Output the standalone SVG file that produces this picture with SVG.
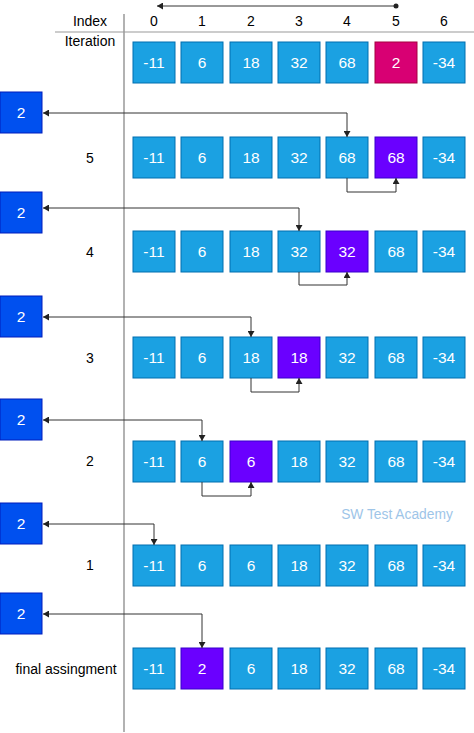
<svg xmlns="http://www.w3.org/2000/svg" width="474" height="733" viewBox="0 0 474 733">
<defs>
<marker id="ah" markerWidth="7" markerHeight="7" refX="6" refY="3.5" orient="auto-start-reverse" markerUnits="userSpaceOnUse">
<path d="M0,0 L6,3.5 L0,7 Z" fill="#222"/>
</marker>
<style>
.b{fill:#1ba1e2;stroke:#006eaf;stroke-width:1}
.p{fill:#6a00ff;stroke:#3700cc;stroke-width:1}
.m{fill:#d80073;stroke:#a50040;stroke-width:1}
.l{fill:#0050ef;stroke:#001dbc;stroke-width:1}
.t{font-family:"Liberation Sans",Arial,sans-serif;font-size:15.5px;fill:#fff;text-anchor:middle;dominant-baseline:central}
.k{font-family:"Liberation Sans",Arial,sans-serif;font-size:14px;fill:#000;text-anchor:middle;dominant-baseline:central}
.c{fill:none;stroke:#333;stroke-width:1}
</style>
</defs>
<rect width="474" height="733" fill="#fff"/>
<g id="axes">
<line x1="124" y1="14" x2="124" y2="732" stroke="#999" stroke-width="1.5"/>
<line x1="55" y1="32" x2="474" y2="32" stroke="#999" stroke-width="1"/>
<text class="k" x="90" y="21">Index</text>
<text class="k" x="90" y="41">Iteration</text>
<text class="k" x="154" y="21">0</text>
<text class="k" x="202" y="21">1</text>
<text class="k" x="251" y="21">2</text>
<text class="k" x="299" y="21">3</text>
<text class="k" x="347" y="21">4</text>
<text class="k" x="396" y="21">5</text>
<text class="k" x="444" y="21">6</text>
<text class="k" x="90" y="158">5</text>
<text class="k" x="90" y="252">4</text>
<text class="k" x="90" y="358">3</text>
<text class="k" x="90" y="461">2</text>
<text class="k" x="90" y="565">1</text>
<text class="k" x="66" y="669">final assingment</text>
<text x="397" y="514" font-family="Liberation Sans,Arial,sans-serif" font-size="13.8" fill="#9ec5e8" text-anchor="middle" dominant-baseline="central">SW Test Academy</text>
</g>
<g id="row0">
<rect class="b" x="133" y="42" width="42" height="41"/><text class="t" x="154" y="62.5">-11</text>
<rect class="b" x="181" y="42" width="42" height="41"/><text class="t" x="202" y="62.5">6</text>
<rect class="b" x="230" y="42" width="42" height="41"/><text class="t" x="251" y="62.5">18</text>
<rect class="b" x="278" y="42" width="42" height="41"/><text class="t" x="299" y="62.5">32</text>
<rect class="b" x="326" y="42" width="42" height="41"/><text class="t" x="347" y="62.5">68</text>
<rect class="m" x="375" y="42" width="42" height="41"/><text class="t" x="396" y="62.5">2</text>
<rect class="b" x="423" y="42" width="42" height="41"/><text class="t" x="444" y="62.5">-34</text>
</g>
<g id="row5">
<rect class="l" x="0" y="92" width="42" height="41"/><text class="t" x="21" y="112.5">2</text>
<rect class="b" x="133" y="137" width="42" height="41"/><text class="t" x="154" y="157.5">-11</text>
<rect class="b" x="181" y="137" width="42" height="41"/><text class="t" x="202" y="157.5">6</text>
<rect class="b" x="230" y="137" width="42" height="41"/><text class="t" x="251" y="157.5">18</text>
<rect class="b" x="278" y="137" width="42" height="41"/><text class="t" x="299" y="157.5">32</text>
<rect class="b" x="326" y="137" width="42" height="41"/><text class="t" x="347" y="157.5">68</text>
<rect class="p" x="375" y="137" width="42" height="41"/><text class="t" x="396" y="157.5">68</text>
<rect class="b" x="423" y="137" width="42" height="41"/><text class="t" x="444" y="157.5">-34</text>
</g>
<g id="row4">
<rect class="l" x="0" y="192" width="42" height="41"/><text class="t" x="21" y="212.5">2</text>
<rect class="b" x="133" y="231" width="42" height="41"/><text class="t" x="154" y="251.5">-11</text>
<rect class="b" x="181" y="231" width="42" height="41"/><text class="t" x="202" y="251.5">6</text>
<rect class="b" x="230" y="231" width="42" height="41"/><text class="t" x="251" y="251.5">18</text>
<rect class="b" x="278" y="231" width="42" height="41"/><text class="t" x="299" y="251.5">32</text>
<rect class="p" x="326" y="231" width="42" height="41"/><text class="t" x="347" y="251.5">32</text>
<rect class="b" x="375" y="231" width="42" height="41"/><text class="t" x="396" y="251.5">68</text>
<rect class="b" x="423" y="231" width="42" height="41"/><text class="t" x="444" y="251.5">-34</text>
</g>
<g id="row3">
<rect class="l" x="0" y="296" width="42" height="41"/><text class="t" x="21" y="316.5">2</text>
<rect class="b" x="133" y="337" width="42" height="41"/><text class="t" x="154" y="357.5">-11</text>
<rect class="b" x="181" y="337" width="42" height="41"/><text class="t" x="202" y="357.5">6</text>
<rect class="b" x="230" y="337" width="42" height="41"/><text class="t" x="251" y="357.5">18</text>
<rect class="p" x="278" y="337" width="42" height="41"/><text class="t" x="299" y="357.5">18</text>
<rect class="b" x="326" y="337" width="42" height="41"/><text class="t" x="347" y="357.5">32</text>
<rect class="b" x="375" y="337" width="42" height="41"/><text class="t" x="396" y="357.5">68</text>
<rect class="b" x="423" y="337" width="42" height="41"/><text class="t" x="444" y="357.5">-34</text>
</g>
<g id="row2">
<rect class="l" x="0" y="399" width="42" height="41"/><text class="t" x="21" y="419.5">2</text>
<rect class="b" x="133" y="441" width="42" height="41"/><text class="t" x="154" y="461.5">-11</text>
<rect class="b" x="181" y="441" width="42" height="41"/><text class="t" x="202" y="461.5">6</text>
<rect class="p" x="230" y="441" width="42" height="41"/><text class="t" x="251" y="461.5">6</text>
<rect class="b" x="278" y="441" width="42" height="41"/><text class="t" x="299" y="461.5">18</text>
<rect class="b" x="326" y="441" width="42" height="41"/><text class="t" x="347" y="461.5">32</text>
<rect class="b" x="375" y="441" width="42" height="41"/><text class="t" x="396" y="461.5">68</text>
<rect class="b" x="423" y="441" width="42" height="41"/><text class="t" x="444" y="461.5">-34</text>
</g>
<g id="row1">
<rect class="l" x="0" y="503" width="42" height="41"/><text class="t" x="21" y="523.5">2</text>
<rect class="b" x="133" y="545" width="42" height="41"/><text class="t" x="154" y="565.5">-11</text>
<rect class="b" x="181" y="545" width="42" height="41"/><text class="t" x="202" y="565.5">6</text>
<rect class="b" x="230" y="545" width="42" height="41"/><text class="t" x="251" y="565.5">6</text>
<rect class="b" x="278" y="545" width="42" height="41"/><text class="t" x="299" y="565.5">18</text>
<rect class="b" x="326" y="545" width="42" height="41"/><text class="t" x="347" y="565.5">32</text>
<rect class="b" x="375" y="545" width="42" height="41"/><text class="t" x="396" y="565.5">68</text>
<rect class="b" x="423" y="545" width="42" height="41"/><text class="t" x="444" y="565.5">-34</text>
</g>
<g id="rowfinal">
<rect class="l" x="0" y="593" width="42" height="41"/><text class="t" x="21" y="613.5">2</text>
<rect class="b" x="133" y="648" width="42" height="41"/><text class="t" x="154" y="668.5">-11</text>
<rect class="p" x="181" y="648" width="42" height="41"/><text class="t" x="202" y="668.5">2</text>
<rect class="b" x="230" y="648" width="42" height="41"/><text class="t" x="251" y="668.5">6</text>
<rect class="b" x="278" y="648" width="42" height="41"/><text class="t" x="299" y="668.5">18</text>
<rect class="b" x="326" y="648" width="42" height="41"/><text class="t" x="347" y="668.5">32</text>
<rect class="b" x="375" y="648" width="42" height="41"/><text class="t" x="396" y="668.5">68</text>
<rect class="b" x="423" y="648" width="42" height="41"/><text class="t" x="444" y="668.5">-34</text>
</g>
<g id="connectors">
<line class="c" x1="396" y1="6" x2="157" y2="6" marker-end="url(#ah)"/>
<circle cx="396" cy="6" r="2.5" fill="#222"/>
<path class="c" d="M43,113 H347 V137" marker-start="url(#ah)" marker-end="url(#ah)"/>
<path class="c" d="M347,178 V192 H396 V178" marker-end="url(#ah)"/>
<path class="c" d="M43,208 H299 V231" marker-start="url(#ah)" marker-end="url(#ah)"/>
<path class="c" d="M299,272 V285 H347 V272" marker-end="url(#ah)"/>
<path class="c" d="M43,317 H251 V337" marker-start="url(#ah)" marker-end="url(#ah)"/>
<path class="c" d="M251,378 V392 H299 V378" marker-end="url(#ah)"/>
<path class="c" d="M43,420 H202 V441" marker-start="url(#ah)" marker-end="url(#ah)"/>
<path class="c" d="M202,482 V496 H251 V482" marker-end="url(#ah)"/>
<path class="c" d="M43,524 H154 V545" marker-start="url(#ah)" marker-end="url(#ah)"/>
<path class="c" d="M43,614 H202 V648" marker-start="url(#ah)" marker-end="url(#ah)"/>
</g>
</svg>
